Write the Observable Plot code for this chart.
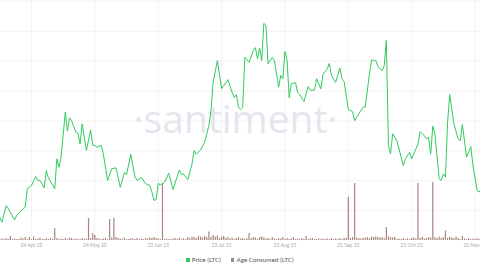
<!DOCTYPE html>
<html><head><meta charset="utf-8">
<script src="https://cdn.jsdelivr.net/npm/d3@7"></script>
<script src="https://cdn.jsdelivr.net/npm/@observablehq/plot@0.6"></script>
<style>
html,body{margin:0;padding:0;background:#fff;}
#wrap{position:relative;width:480px;height:270px;overflow:hidden;background:#fff;font-family:Lato,"Open Sans",sans-serif;}
#wrap svg{position:absolute;left:0;top:0;}
#legend{position:absolute;left:0;top:256px;width:480px;display:flex;justify-content:center;align-items:center;font-size:6.3px;line-height:8px;color:#555;}
#legend .sw{display:inline-block;width:3.5px;height:3.5px;margin-right:2px;}
#legend .item{display:flex;align-items:center;margin:0 5px;}
</style></head>
<body>
<div id="wrap"><div id="legend"></div></div>
<script>
// ---- data ----
const domainStart = "2025-04-09T07:40:00Z";
const domainEnd = "2025-11-22T14:00:00Z";
const tickDates = ["2025-04-24","2025-05-24","2025-06-23","2025-07-23","2025-08-22","2025-09-21","2025-10-21","2025-11-20"];

const priceDates = [
"2025-04-09","2025-04-10","2025-04-12","2025-04-13","2025-04-16","2025-04-17","2025-04-20","2025-04-21","2025-04-22","2025-04-24",
"2025-04-26","2025-04-27","2025-04-28","2025-04-30","2025-05-01","2025-05-02","2025-05-05","2025-05-06","2025-05-07","2025-05-08",
"2025-05-10","2025-05-11","2025-05-12","2025-05-13","2025-05-15","2025-05-16","2025-05-17","2025-05-18","2025-05-19","2025-05-20",
"2025-05-22","2025-05-23","2025-05-24","2025-05-25","2025-05-27","2025-05-28","2025-05-30","2025-06-01","2025-06-03","2025-06-04",
"2025-06-05","2025-06-07","2025-06-08","2025-06-10","2025-06-12","2025-06-13","2025-06-15","2025-06-17","2025-06-19","2025-06-20",
"2025-06-21","2025-06-22","2025-06-23","2025-06-24","2025-06-26","2025-06-28","2025-06-30","2025-07-03","2025-07-04","2025-07-05",
"2025-07-07","2025-07-09","2025-07-10","2025-07-11","2025-07-13","2025-07-15","2025-07-16","2025-07-17","2025-07-18","2025-07-19",
"2025-07-20","2025-07-21","2025-07-23","2025-07-24","2025-07-26","2025-07-28","2025-07-29","2025-07-30","2025-07-31","2025-08-01",
"2025-08-02","2025-08-03","2025-08-05","2025-08-07","2025-08-08","2025-08-09","2025-08-10","2025-08-11","2025-08-12","2025-08-13",
"2025-08-14","2025-08-16","2025-08-17","2025-08-19","2025-08-20","2025-08-21","2025-08-22","2025-08-23","2025-08-24","2025-08-25",
"2025-08-27","2025-08-28","2025-08-29","2025-08-31","2025-09-02","2025-09-03","2025-09-05","2025-09-06","2025-09-08","2025-09-09",
"2025-09-11","2025-09-12","2025-09-13","2025-09-15","2025-09-17","2025-09-18","2025-09-19","2025-09-21","2025-09-23","2025-09-24",
"2025-09-26","2025-09-28","2025-09-29","2025-10-01","2025-10-02","2025-10-04","2025-10-05","2025-10-07","2025-10-08","2025-10-09",
"2025-10-10","2025-10-11","2025-10-12","2025-10-14","2025-10-17","2025-10-18","2025-10-20","2025-10-21","2025-10-24","2025-10-25",
"2025-10-27","2025-10-28","2025-10-29","2025-10-30","2025-10-31","2025-11-01","2025-11-03","2025-11-04","2025-11-05","2025-11-06",
"2025-11-07","2025-11-08","2025-11-10","2025-11-12","2025-11-13","2025-11-14","2025-11-16","2025-11-18","2025-11-19","2025-11-21",
"2025-11-22","2025-11-23"];
const priceValues = [
67.7,66.1,71.7,70.6,66.9,68.4,70.6,71.1,77.3,78.4,
81.4,80.1,80.1,77.6,83.4,81.0,77.3,87.3,84.5,87.9,
102.9,96.6,101.0,100.1,96.2,95.9,92.3,99.0,94.5,90.1,
97.0,91.8,91.8,91.2,91.8,89.0,80.1,84.0,84.3,81.2,
77.8,82.7,82.1,88.8,81.2,80.1,81.1,79.0,78.4,76.2,
73.4,73.7,79.1,78.6,79.5,82.5,77.1,83.6,82.1,82.2,
80.4,85.6,90.1,88.8,90.3,92.9,95.7,98.5,103.5,112.9,
116.5,120.2,110.8,111.8,113.8,109.5,107.8,108.8,104.6,103.8,
104.5,121.3,119.6,123.5,124.5,120.8,124.4,120.2,132.6,131.9,
119.1,121.2,120.2,111.3,115.2,114.1,123.2,120.5,107.7,112.4,
112.8,109.5,108.8,106.5,111.5,110.2,110.3,114.1,110.7,115.7,
117.4,119.2,115.2,112.9,117.7,114.1,113.2,103.8,103.1,100.1,
102.4,104.6,104.6,115.7,120.4,120.2,118.2,116.8,118.5,126.9,
91.8,89.0,95.7,93.4,85.1,87.3,89.5,87.3,92.3,96.4,
95.1,94.0,94.5,89.0,98.3,95.7,80.7,80.1,82.3,81.2,
99.6,108.8,99.0,94.0,93.4,98.8,87.9,91.4,85.1,76.7,
76.2,77.3];

// Age Consumed, one value per day starting 2025-04-09
const ageStart = "2025-04-09";
const ageValues = [
0.1,0.15,0.1,0.2,0.1,0.4,0.1,0.15,0.1,0.1,
0.25,0.15,0.3,0.1,0.3,0.1,0.35,0.1,0.15,0.25,
0.1,0.1,0.2,0.1,0.2,0.1,1.2,0.2,0.1,0.15,
0.1,0.2,0.1,0.25,0.2,0.1,0.15,0.1,0.1,0.2,
0.1,0.15,2.2,0.2,0.7,0.5,0.2,0.15,0.1,0.15,
0.2,0.1,2.1,0.25,2.2,0.3,0.2,0.15,0.1,0.25,
0.1,0.1,0.2,0.15,0.1,0.2,0.1,0.15,0.1,0.2,
0.15,0.25,0.2,0.3,0.2,0.15,0.1,5.65,0.1,0.15,
0.1,0.1,0.15,0.2,0.1,0.25,0.1,0.2,0.1,0.3,
0.2,0.35,0.3,0.2,0.4,0.35,0.25,0.4,0.3,0.85,
0.3,0.5,0.35,0.45,0.2,0.35,0.4,0.2,0.3,0.15,
0.25,0.1,0.2,0.3,0.15,0.2,0.1,0.15,0.7,0.2,
0.3,0.25,0.1,0.3,0.35,0.25,0.15,0.2,0.1,0.3,
0.15,0.1,0.2,0.15,0.3,0.1,0.2,0.1,0.15,0.3,
0.1,0.15,0.1,0.2,0.1,0.4,0.1,0.15,0.2,0.1,
0.1,0.15,0.1,0.15,0.1,0.15,0.1,0.2,0.1,0.15,
0.1,0.2,0.1,0.2,0.25,4.3,0.2,0.3,5.7,0.25,
0.2,0.15,0.2,0.25,0.3,0.2,0.35,0.3,0.35,0.3,
0.25,0.3,0.2,1.3,0.35,0.3,0.25,0.3,0.1,0.15,
0.1,0.2,0.1,0.15,0.1,0.2,0.25,0.15,5.7,0.2,
0.3,0.15,0.2,0.3,0.25,5.8,0.3,0.2,0.35,0.2,
0.3,0.95,0.2,0.3,0.25,0.2,0.35,0.2,0.1,0.4,
0.15,0.1,0.2,0.1,0.15,0.1,0.2,0.1];

const priceGrid = [70,80,90,100,110,120,130,140];
const priceColor = "#2fcb5e";
const ageColor = "#a8867f";
const ageLegendColor = "#8e8e8e";

// ---- build ----
const parse = d3.isoParse;
const priceData = priceDates.map((d,i)=>({date: parse(d), price: priceValues[i]}));
const s0 = parse(ageStart);
const ageData = ageValues.map((v,i)=>({date: d3.utcDay.offset(s0, i), value: v}));
const tickList = tickDates.map(parse);
const xDomain = [parse(domainStart), parse(domainEnd)];

const common = {width: 480, height: 252, marginTop: 0, marginRight: 0, marginBottom: 12, marginLeft: 0};

const barsChart = Plot.plot({
  ...common,
  style: {background: "#fff"},
  x: {type: "utc", domain: xDomain, axis: null},
  y: {domain: [0, 24], axis: null},
  marks: [
    Plot.ruleX(ageData, {x: "date", y: "value", stroke: ageColor, strokeWidth: 1.2, clip: true})
  ]
});

const priceChart = Plot.plot({
  ...common,
  style: {background: "transparent", color: "#aaa", fontSize: "5px", fontFamily: "Lato, 'Open Sans', sans-serif"},
  x: {type: "utc", domain: xDomain},
  y: {domain: [60, 140.27], axis: null},
  marks: [
    Plot.gridX(tickList, {stroke: "#000", strokeOpacity: 0.05}),
    Plot.gridY(priceGrid, {stroke: "#000", strokeOpacity: 0.05}),
    Plot.text(["\u00b7santiment\u00b7"], {text: d => d, frameAnchor: "middle", dx: -5, dy: 0, fontSize: 39, fontFamily: "Open Sans", fill: "#e4e6ee"}),
    Plot.lineY(priceData, {x: "date", y: "price", stroke: priceColor, strokeWidth: 1, clip: true}),
    Plot.axisX(tickList, {tickSize: 0, tickPadding: 3, tickFormat: d3.utcFormat("%d %b %y"), label: null})
  ]
});

const wrap = document.getElementById("wrap");
wrap.insertBefore(priceChart, wrap.firstChild);
wrap.insertBefore(barsChart, wrap.firstChild);

const legend = document.getElementById("legend");
[["Price (LTC)", priceColor], ["Age Consumed (LTC)", ageLegendColor]].forEach(([t, c]) => {
  const it = document.createElement("span"); it.className = "item";
  const sw = document.createElement("span"); sw.className = "sw"; sw.style.background = c;
  it.appendChild(sw); it.appendChild(document.createTextNode(t));
  legend.appendChild(it);
});
</script>
</body></html>
